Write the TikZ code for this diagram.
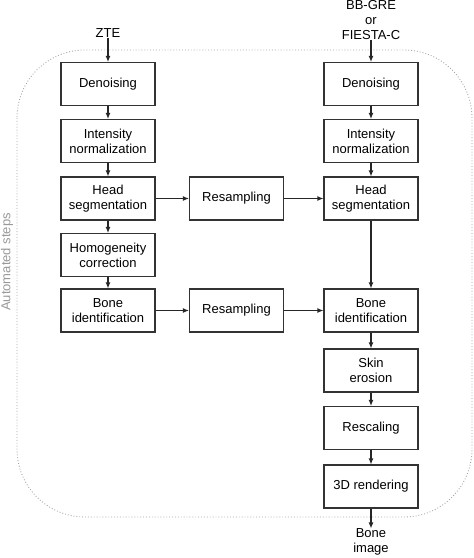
\documentclass[tikz,border=0pt]{standalone}
\usepackage{fontspec}
\setmainfont{Liberation Sans}
\usetikzlibrary{arrows.meta}
\begin{document}
\begin{tikzpicture}[x=1pt,y=-1pt,
  box/.style={draw=black!80,line width=1.1pt,minimum width=94pt,minimum height=43pt,align=center,inner sep=1pt,font=\fontsize{13}{15}\selectfont},
  lbl/.style={align=center,inner sep=0pt,font=\fontsize{13}{15}\selectfont},
  arr/.style={draw=black!85,line width=1.1pt,-{Latex[length=6pt,width=5pt]}}]
\useasboundingbox (0,0) rectangle (474,558);
\draw[gray!70,dotted,line width=0.9pt,rounded corners=68pt] (17,50) rectangle (472,517);
\node[rotate=90,text=gray!80,lbl] (auto) at (7,262) {Automated steps};
% left column
\node[lbl] (zte) at (108,33) {ZTE};
\node[box] (ld) at (108,84) {Denoising};
\node[box] (li) at (108,141) {Intensity\\normalization};
\node[box] (lh) at (108,198.5) {Head\\segmentation};
\node[box] (lc) at (108,255) {Homogeneity\\correction};
\node[box] (lb) at (108,310.5) {Bone\\identification};
% middle
\node[box] (m1) at (236.5,198.5) {Resampling};
\node[box] (m2) at (236.5,310.5) {Resampling};
% right column
\node[lbl] (bb) at (371,20) {BB-GRE\\or\\FIESTA-C};
\node[box] (rd) at (371,84) {Denoising};
\node[box] (ri) at (371,141) {Intensity\\normalization};
\node[box] (rh) at (371,198.5) {Head\\segmentation};
\node[box] (rb) at (371,310.5) {Bone\\identification};
\node[box] (rs) at (371,370.5) {Skin\\erosion};
\node[box] (rr) at (371,428) {Rescaling};
\node[box] (r3) at (371,486.5) {3D rendering};
\node[lbl] (bi) at (371,542) {Bone\\image};
% arrows
\draw[arr] (zte) -- (ld);
\draw[arr] (ld) -- (li);
\draw[arr] (li) -- (lh);
\draw[arr] (lh) -- (lc);
\draw[arr] (lc) -- (lb);
\draw[arr] (lh) -- (m1);
\draw[arr] (m1) -- (rh);
\draw[arr] (lb) -- (m2);
\draw[arr] (m2) -- (rb);
\draw[arr] (bb) -- (rd);
\draw[arr] (rd) -- (ri);
\draw[arr] (ri) -- (rh);
\draw[arr] (rh) -- (rb);
\draw[arr] (rb) -- (rs);
\draw[arr] (rs) -- (rr);
\draw[arr] (rr) -- (r3);
\draw[arr] (r3) -- (bi);
\end{tikzpicture}
\end{document}
